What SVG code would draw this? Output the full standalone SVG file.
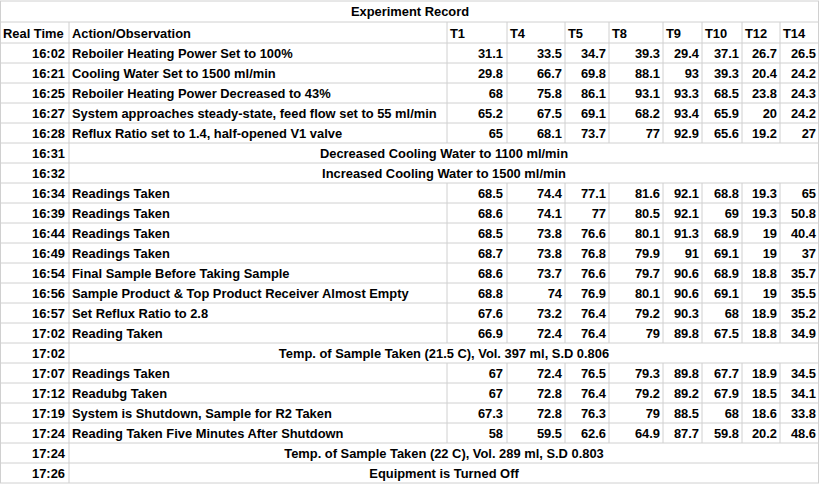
<svg xmlns="http://www.w3.org/2000/svg" width="820" height="485" viewBox="0 0 820 485">
<style>
text{font-family:"Liberation Sans",Arial,sans-serif;font-weight:bold;font-size:12.9px;fill:#000}
.r{text-anchor:end}.c{text-anchor:middle}
line{stroke:#d0d0d0;stroke-width:1}
</style>
<rect width="820" height="485" fill="#fff"/>
<g id="grid">
<line x1="0" y1="1" x2="819" y2="1"/><line x1="0" y1="22" x2="819" y2="22"/><line x1="0" y1="43" x2="819" y2="43"/>
<line x1="0" y1="63" x2="819" y2="63"/><line x1="0" y1="83" x2="819" y2="83"/><line x1="0" y1="103" x2="819" y2="103"/><line x1="0" y1="123" x2="819" y2="123"/><line x1="0" y1="143" x2="819" y2="143"/><line x1="0" y1="163" x2="819" y2="163"/><line x1="0" y1="183" x2="819" y2="183"/><line x1="0" y1="203" x2="819" y2="203"/><line x1="0" y1="223" x2="819" y2="223"/><line x1="0" y1="243" x2="819" y2="243"/><line x1="0" y1="263" x2="819" y2="263"/><line x1="0" y1="283" x2="819" y2="283"/><line x1="0" y1="303" x2="819" y2="303"/><line x1="0" y1="323" x2="819" y2="323"/><line x1="0" y1="343" x2="819" y2="343"/><line x1="0" y1="363" x2="819" y2="363"/><line x1="0" y1="383" x2="819" y2="383"/><line x1="0" y1="403" x2="819" y2="403"/><line x1="0" y1="423" x2="819" y2="423"/><line x1="0" y1="443" x2="819" y2="443"/><line x1="0" y1="463" x2="819" y2="463"/><line x1="0" y1="483" x2="819" y2="483"/>
<line x1="0.5" y1="1" x2="0.5" y2="483"/><line x1="818.5" y1="1" x2="818.5" y2="483"/><line x1="69" y1="22" x2="69" y2="483"/>
<g id="v1">
<line x1="447" y1="22" x2="447" y2="143"/><line x1="507" y1="22" x2="507" y2="143"/><line x1="565" y1="22" x2="565" y2="143"/><line x1="609" y1="22" x2="609" y2="143"/><line x1="663" y1="22" x2="663" y2="143"/><line x1="702" y1="22" x2="702" y2="143"/><line x1="742" y1="22" x2="742" y2="143"/><line x1="780" y1="22" x2="780" y2="143"/>
<line x1="447" y1="183" x2="447" y2="343"/><line x1="507" y1="183" x2="507" y2="343"/><line x1="565" y1="183" x2="565" y2="343"/><line x1="609" y1="183" x2="609" y2="343"/><line x1="663" y1="183" x2="663" y2="343"/><line x1="702" y1="183" x2="702" y2="343"/><line x1="742" y1="183" x2="742" y2="343"/><line x1="780" y1="183" x2="780" y2="343"/>
<line x1="447" y1="363" x2="447" y2="443"/><line x1="507" y1="363" x2="507" y2="443"/><line x1="565" y1="363" x2="565" y2="443"/><line x1="609" y1="363" x2="609" y2="443"/><line x1="663" y1="363" x2="663" y2="443"/><line x1="702" y1="363" x2="702" y2="443"/><line x1="742" y1="363" x2="742" y2="443"/><line x1="780" y1="363" x2="780" y2="443"/>
</g>
</g>
<g id="title"><text class="c" x="410" y="16">Experiment Record</text></g>
<g id="header">
<text x="3" y="38">Real Time</text><text x="72" y="38">Action/Observation</text>
<text x="450" y="38">T1</text><text x="510" y="38">T4</text><text x="568" y="38">T5</text><text x="612" y="38">T8</text><text x="666" y="38">T9</text><text x="705" y="38">T10</text><text x="745" y="38">T12</text><text x="783" y="38">T14</text>
</g>
<g id="times" class="r">
<text class="r" x="65" y="58">16:02</text><text class="r" x="65" y="78">16:21</text><text class="r" x="65" y="98">16:25</text><text class="r" x="65" y="118">16:27</text><text class="r" x="65" y="138">16:28</text><text class="r" x="65" y="158">16:31</text><text class="r" x="65" y="178">16:32</text><text class="r" x="65" y="198">16:34</text><text class="r" x="65" y="218">16:39</text><text class="r" x="65" y="238">16:44</text><text class="r" x="65" y="258">16:49</text><text class="r" x="65" y="278">16:54</text><text class="r" x="65" y="298">16:56</text><text class="r" x="65" y="318">16:57</text><text class="r" x="65" y="338">17:02</text><text class="r" x="65" y="358">17:02</text><text class="r" x="65" y="378">17:07</text><text class="r" x="65" y="398">17:12</text><text class="r" x="65" y="418">17:19</text><text class="r" x="65" y="438">17:24</text><text class="r" x="65" y="458">17:24</text><text class="r" x="65" y="478">17:26</text>
</g>
<g id="actions">
<text x="72" y="58">Reboiler Heating Power Set to 100%</text>
<text x="72" y="78">Cooling Water Set to 1500 ml/min</text>
<text x="72" y="98">Reboiler Heating Power Decreased to 43%</text>
<text x="72" y="118">System approaches steady-state, feed flow set to 55 ml/min</text>
<text x="72" y="138">Reflux Ratio set to 1.4, half-opened V1 valve</text>
<text class="c" x="444" y="158">Decreased Cooling Water to 1100 ml/min</text>
<text class="c" x="444" y="178">Increased Cooling Water to 1500 ml/min</text>
<text x="72" y="198">Readings Taken</text>
<text x="72" y="218">Readings Taken</text>
<text x="72" y="238">Readings Taken</text>
<text x="72" y="258">Readings Taken</text>
<text x="72" y="278">Final Sample Before Taking Sample</text>
<text x="72" y="298">Sample Product &amp; Top Product Receiver Almost Empty</text>
<text x="72" y="318">Set Reflux Ratio to 2.8</text>
<text x="72" y="338">Reading Taken</text>
<text class="c" x="444" y="358">Temp. of Sample Taken (21.5 C), Vol. 397 ml, S.D 0.806</text>
<text x="72" y="378">Readings Taken</text>
<text x="72" y="398">Readubg Taken</text>
<text x="72" y="418">System is Shutdown, Sample for R2 Taken</text>
<text x="72" y="438">Reading Taken Five Minutes After Shutdown</text>
<text class="c" x="444" y="458">Temp. of Sample Taken (22 C), Vol. 289 ml, S.D 0.803</text>
<text class="c" x="444" y="478">Equipment is Turned Off</text>
</g>
<g id="values">
<text class="r" x="503" y="58">31.1</text><text class="r" x="562" y="58">33.5</text><text class="r" x="606" y="58">34.7</text><text class="r" x="660" y="58">39.3</text><text class="r" x="699" y="58">29.4</text><text class="r" x="739" y="58">37.1</text><text class="r" x="777" y="58">26.7</text><text class="r" x="816" y="58">26.5</text>
<text class="r" x="503" y="78">29.8</text><text class="r" x="562" y="78">66.7</text><text class="r" x="606" y="78">69.8</text><text class="r" x="660" y="78">88.1</text><text class="r" x="699" y="78">93</text><text class="r" x="739" y="78">39.3</text><text class="r" x="777" y="78">20.4</text><text class="r" x="816" y="78">24.2</text>
<text class="r" x="503" y="98">68</text><text class="r" x="562" y="98">75.8</text><text class="r" x="606" y="98">86.1</text><text class="r" x="660" y="98">93.1</text><text class="r" x="699" y="98">93.3</text><text class="r" x="739" y="98">68.5</text><text class="r" x="777" y="98">23.8</text><text class="r" x="816" y="98">24.3</text>
<text class="r" x="503" y="118">65.2</text><text class="r" x="562" y="118">67.5</text><text class="r" x="606" y="118">69.1</text><text class="r" x="660" y="118">68.2</text><text class="r" x="699" y="118">93.4</text><text class="r" x="739" y="118">65.9</text><text class="r" x="777" y="118">20</text><text class="r" x="816" y="118">24.2</text>
<text class="r" x="503" y="138">65</text><text class="r" x="562" y="138">68.1</text><text class="r" x="606" y="138">73.7</text><text class="r" x="660" y="138">77</text><text class="r" x="699" y="138">92.9</text><text class="r" x="739" y="138">65.6</text><text class="r" x="777" y="138">19.2</text><text class="r" x="816" y="138">27</text>
<text class="r" x="503" y="198">68.5</text><text class="r" x="562" y="198">74.4</text><text class="r" x="606" y="198">77.1</text><text class="r" x="660" y="198">81.6</text><text class="r" x="699" y="198">92.1</text><text class="r" x="739" y="198">68.8</text><text class="r" x="777" y="198">19.3</text><text class="r" x="816" y="198">65</text>
<text class="r" x="503" y="218">68.6</text><text class="r" x="562" y="218">74.1</text><text class="r" x="606" y="218">77</text><text class="r" x="660" y="218">80.5</text><text class="r" x="699" y="218">92.1</text><text class="r" x="739" y="218">69</text><text class="r" x="777" y="218">19.3</text><text class="r" x="816" y="218">50.8</text>
<text class="r" x="503" y="238">68.5</text><text class="r" x="562" y="238">73.8</text><text class="r" x="606" y="238">76.6</text><text class="r" x="660" y="238">80.1</text><text class="r" x="699" y="238">91.3</text><text class="r" x="739" y="238">68.9</text><text class="r" x="777" y="238">19</text><text class="r" x="816" y="238">40.4</text>
<text class="r" x="503" y="258">68.7</text><text class="r" x="562" y="258">73.8</text><text class="r" x="606" y="258">76.8</text><text class="r" x="660" y="258">79.9</text><text class="r" x="699" y="258">91</text><text class="r" x="739" y="258">69.1</text><text class="r" x="777" y="258">19</text><text class="r" x="816" y="258">37</text>
<text class="r" x="503" y="278">68.6</text><text class="r" x="562" y="278">73.7</text><text class="r" x="606" y="278">76.6</text><text class="r" x="660" y="278">79.7</text><text class="r" x="699" y="278">90.6</text><text class="r" x="739" y="278">68.9</text><text class="r" x="777" y="278">18.8</text><text class="r" x="816" y="278">35.7</text>
<text class="r" x="503" y="298">68.8</text><text class="r" x="562" y="298">74</text><text class="r" x="606" y="298">76.9</text><text class="r" x="660" y="298">80.1</text><text class="r" x="699" y="298">90.6</text><text class="r" x="739" y="298">69.1</text><text class="r" x="777" y="298">19</text><text class="r" x="816" y="298">35.5</text>
<text class="r" x="503" y="318">67.6</text><text class="r" x="562" y="318">73.2</text><text class="r" x="606" y="318">76.4</text><text class="r" x="660" y="318">79.2</text><text class="r" x="699" y="318">90.3</text><text class="r" x="739" y="318">68</text><text class="r" x="777" y="318">18.9</text><text class="r" x="816" y="318">35.2</text>
<text class="r" x="503" y="338">66.9</text><text class="r" x="562" y="338">72.4</text><text class="r" x="606" y="338">76.4</text><text class="r" x="660" y="338">79</text><text class="r" x="699" y="338">89.8</text><text class="r" x="739" y="338">67.5</text><text class="r" x="777" y="338">18.8</text><text class="r" x="816" y="338">34.9</text>
<text class="r" x="503" y="378">67</text><text class="r" x="562" y="378">72.4</text><text class="r" x="606" y="378">76.5</text><text class="r" x="660" y="378">79.3</text><text class="r" x="699" y="378">89.8</text><text class="r" x="739" y="378">67.7</text><text class="r" x="777" y="378">18.9</text><text class="r" x="816" y="378">34.5</text>
<text class="r" x="503" y="398">67</text><text class="r" x="562" y="398">72.8</text><text class="r" x="606" y="398">76.4</text><text class="r" x="660" y="398">79.2</text><text class="r" x="699" y="398">89.2</text><text class="r" x="739" y="398">67.9</text><text class="r" x="777" y="398">18.5</text><text class="r" x="816" y="398">34.1</text>
<text class="r" x="503" y="418">67.3</text><text class="r" x="562" y="418">72.8</text><text class="r" x="606" y="418">76.3</text><text class="r" x="660" y="418">79</text><text class="r" x="699" y="418">88.5</text><text class="r" x="739" y="418">68</text><text class="r" x="777" y="418">18.6</text><text class="r" x="816" y="418">33.8</text>
<text class="r" x="503" y="438">58</text><text class="r" x="562" y="438">59.5</text><text class="r" x="606" y="438">62.6</text><text class="r" x="660" y="438">64.9</text><text class="r" x="699" y="438">87.7</text><text class="r" x="739" y="438">59.8</text><text class="r" x="777" y="438">20.2</text><text class="r" x="816" y="438">48.6</text>
</g>
</svg>
